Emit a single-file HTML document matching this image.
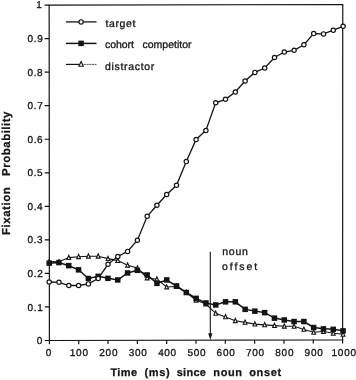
<!DOCTYPE html>
<html lang="en"><head><meta charset="utf-8"><title>Fixation Probability</title>
<style>html,body{margin:0;padding:0;background:#fff;}body{width:356px;height:380px;position:relative;overflow:hidden;}</style></head>
<body>
<svg width="356" height="380" viewBox="0 0 356 380" style="position:absolute;left:0;top:0">
<g fill="none" stroke="#141414" stroke-width="1.2">
<path d="M49.15,5.05L342.75,4.5L342.6,339.8L49.4,340.5Z"/>
<path d="M44.80,340.50H49.40M49.40,340.50V344.20M44.77,306.95H49.38M78.72,340.43V344.13M44.75,273.41H49.35M108.04,340.36V344.06M44.72,239.87H49.32M137.36,340.29V343.99M44.70,206.32H49.30M166.68,340.22V343.92M44.67,172.78H49.27M196.00,340.15V343.85M44.65,139.23H49.25M225.32,340.08V343.78M44.62,105.69H49.23M254.64,340.01V343.71M44.60,72.14H49.20M283.96,339.94V343.64M44.57,38.60H49.17M313.28,339.87V343.57M44.55,5.05H49.15M342.60,339.80V343.50"/>
</g>
<path d="M210.3,251.8V334" stroke="#141414" stroke-width="1.1" fill="none"/>
<path d="M208.20000000000002,333.2L212.4,333.2L210.3,340Z" fill="#141414"/>
<polyline points="49.2,261.6 59.0,261.8 68.8,257.6 78.6,256.7 88.4,256.2 98.2,256.2 108.0,258.6 117.8,260.6 127.6,265.2 137.4,268.0 147.2,278.0 156.9,279.2 166.7,287.0 176.5,286.5 186.3,292.5 196.1,300.2 205.9,304.0 215.7,313.3 225.5,316.9 235.3,320.7 245.1,322.4 254.9,324.1 264.7,324.9 274.5,325.6 284.3,326.2 294.1,326.3 303.9,329.4 313.7,332.3 323.5,331.5 333.3,333.3 343.1,334.3" fill="none" stroke="#141414" stroke-width="1.1"/>
<polyline points="49.2,263.2 59.0,262.5 68.8,265.7 78.6,269.8 88.4,278.5 98.2,276.3 108.0,278.3 117.8,280.0 127.6,273.0 137.4,270.3 147.2,275.0 156.9,283.3 166.7,280.0 176.5,286.0 186.3,292.5 196.1,298.4 205.9,303.0 215.7,305.0 225.5,301.8 235.3,301.8 245.1,309.4 254.9,311.1 264.7,312.6 274.5,318.1 284.3,320.0 294.1,321.5 303.9,321.5 313.7,327.5 323.5,328.8 333.3,329.3 343.1,330.8" fill="none" stroke="#141414" stroke-width="1.5"/>
<polyline points="49.2,282.0 59.0,282.3 68.8,285.5 78.6,285.5 88.4,283.9 98.2,278.5 108.0,264.3 117.8,256.5 127.6,251.4 137.4,240.2 147.2,216.3 156.9,205.3 166.7,194.5 176.5,185.3 186.3,161.6 196.1,139.5 205.9,130.5 215.7,102.8 225.5,99.3 235.3,92.0 245.1,81.0 254.9,72.4 264.7,68.0 274.5,57.5 284.3,52.0 294.1,50.3 303.9,44.7 313.7,33.6 323.5,33.9 333.3,30.2 343.1,26.3" fill="none" stroke="#141414" stroke-width="1.3"/>
<g fill="#fff" stroke="#141414" stroke-width="1.1"><path d="M47.3,263.5L51.1,263.5L49.2,259.4Z"/><path d="M57.1,263.7L60.9,263.7L59.0,259.6Z"/><path d="M66.9,259.5L70.7,259.5L68.8,255.4Z"/><path d="M76.7,258.6L80.5,258.6L78.6,254.4Z"/><path d="M86.5,258.1L90.3,258.1L88.4,253.9Z"/><path d="M96.3,258.1L100.1,258.1L98.2,253.9Z"/><path d="M106.1,260.5L109.9,260.5L108.0,256.4Z"/><path d="M115.9,262.5L119.7,262.5L117.8,258.4Z"/><path d="M125.7,267.1L129.5,267.1L127.6,262.9Z"/><path d="M135.5,269.9L139.3,269.9L137.4,265.8Z"/><path d="M145.2,279.9L149.1,279.9L147.2,275.8Z"/><path d="M155.0,281.1L158.8,281.1L156.9,276.9Z"/><path d="M164.8,288.9L168.6,288.9L166.7,284.8Z"/><path d="M174.6,288.4L178.4,288.4L176.5,284.2Z"/><path d="M184.4,294.4L188.2,294.4L186.3,290.2Z"/><path d="M194.2,302.1L198.0,302.1L196.1,297.9Z"/><path d="M204.0,305.9L207.8,305.9L205.9,301.8Z"/><path d="M213.8,315.2L217.6,315.2L215.7,311.1Z"/><path d="M223.6,318.8L227.4,318.8L225.5,314.6Z"/><path d="M233.4,322.6L237.2,322.6L235.3,318.4Z"/><path d="M243.2,324.2L247.0,324.2L245.1,320.1Z"/><path d="M253.0,326.0L256.8,326.0L254.9,321.9Z"/><path d="M262.8,326.8L266.6,326.8L264.7,322.6Z"/><path d="M272.6,327.5L276.4,327.5L274.5,323.4Z"/><path d="M282.4,328.1L286.2,328.1L284.3,323.9Z"/><path d="M292.2,328.2L296.0,328.2L294.1,324.1Z"/><path d="M302.0,331.2L305.8,331.2L303.9,327.1Z"/><path d="M311.8,334.2L315.6,334.2L313.7,330.1Z"/><path d="M321.6,333.4L325.4,333.4L323.5,329.2Z"/><path d="M331.4,335.2L335.2,335.2L333.3,331.1Z"/><path d="M341.2,336.2L344.9,336.2L343.1,332.1Z"/></g>
<g fill="#141414"><rect x="46.5" y="260.4" width="5.5" height="5.5"/><rect x="56.2" y="259.8" width="5.5" height="5.5"/><rect x="66.0" y="262.9" width="5.5" height="5.5"/><rect x="75.8" y="267.1" width="5.5" height="5.5"/><rect x="85.6" y="275.8" width="5.5" height="5.5"/><rect x="95.4" y="273.6" width="5.5" height="5.5"/><rect x="105.2" y="275.6" width="5.5" height="5.5"/><rect x="115.0" y="277.2" width="5.5" height="5.5"/><rect x="124.8" y="270.2" width="5.5" height="5.5"/><rect x="134.6" y="267.6" width="5.5" height="5.5"/><rect x="144.4" y="272.2" width="5.5" height="5.5"/><rect x="154.2" y="280.6" width="5.5" height="5.5"/><rect x="164.0" y="277.2" width="5.5" height="5.5"/><rect x="173.8" y="283.2" width="5.5" height="5.5"/><rect x="183.6" y="289.8" width="5.5" height="5.5"/><rect x="193.4" y="295.6" width="5.5" height="5.5"/><rect x="203.2" y="300.2" width="5.5" height="5.5"/><rect x="213.0" y="302.2" width="5.5" height="5.5"/><rect x="222.8" y="299.1" width="5.5" height="5.5"/><rect x="232.6" y="299.1" width="5.5" height="5.5"/><rect x="242.4" y="306.6" width="5.5" height="5.5"/><rect x="252.1" y="308.4" width="5.5" height="5.5"/><rect x="261.9" y="309.9" width="5.5" height="5.5"/><rect x="271.7" y="315.4" width="5.5" height="5.5"/><rect x="281.5" y="317.2" width="5.5" height="5.5"/><rect x="291.3" y="318.8" width="5.5" height="5.5"/><rect x="301.1" y="318.8" width="5.5" height="5.5"/><rect x="310.9" y="324.8" width="5.5" height="5.5"/><rect x="320.7" y="326.1" width="5.5" height="5.5"/><rect x="330.5" y="326.6" width="5.5" height="5.5"/><rect x="340.3" y="328.1" width="5.5" height="5.5"/></g>
<g fill="#fff" stroke="#141414" stroke-width="1.2"><circle cx="49.2" cy="282.0" r="2.15"/><circle cx="59.0" cy="282.3" r="2.15"/><circle cx="68.8" cy="285.5" r="2.15"/><circle cx="78.6" cy="285.5" r="2.15"/><circle cx="88.4" cy="283.9" r="2.15"/><circle cx="98.2" cy="278.5" r="2.15"/><circle cx="108.0" cy="264.3" r="2.15"/><circle cx="117.8" cy="256.5" r="2.15"/><circle cx="127.6" cy="251.4" r="2.15"/><circle cx="137.4" cy="240.2" r="2.15"/><circle cx="147.2" cy="216.3" r="2.15"/><circle cx="156.9" cy="205.3" r="2.15"/><circle cx="166.7" cy="194.5" r="2.15"/><circle cx="176.5" cy="185.3" r="2.15"/><circle cx="186.3" cy="161.6" r="2.15"/><circle cx="196.1" cy="139.5" r="2.15"/><circle cx="205.9" cy="130.5" r="2.15"/><circle cx="215.7" cy="102.8" r="2.15"/><circle cx="225.5" cy="99.3" r="2.15"/><circle cx="235.3" cy="92.0" r="2.15"/><circle cx="245.1" cy="81.0" r="2.15"/><circle cx="254.9" cy="72.4" r="2.15"/><circle cx="264.7" cy="68.0" r="2.15"/><circle cx="274.5" cy="57.5" r="2.15"/><circle cx="284.3" cy="52.0" r="2.15"/><circle cx="294.1" cy="50.3" r="2.15"/><circle cx="303.9" cy="44.7" r="2.15"/><circle cx="313.7" cy="33.6" r="2.15"/><circle cx="323.5" cy="33.9" r="2.15"/><circle cx="333.3" cy="30.2" r="2.15"/><circle cx="343.1" cy="26.3" r="2.15"/></g>
<path d="M65.9,21.9H96.5" stroke="#141414" stroke-width="1.3" fill="none"/>
<path d="M65.9,43.4H96.5" stroke="#141414" stroke-width="1.5" fill="none"/>
<path d="M65.9,64.4H81.1" stroke="#141414" stroke-width="1.2" fill="none"/>
<path d="M81.1,64.4H96.5" stroke="#141414" stroke-width="0.7" stroke-dasharray="2.2 0.5" fill="none"/>
<circle cx="81.1" cy="21.9" r="2.15" fill="#fff" stroke="#141414" stroke-width="1.2"/>
<rect x="78.35" y="40.65" width="5.5" height="5.5" fill="#141414"/>
<path d="M78.89999999999999,66.2L83.3,66.2L81.1,61.6Z" fill="#fff" stroke="#141414" stroke-width="1.1"/>
<g font-family="Liberation Sans, Arial, Helvetica, sans-serif" fill="#141414" style="text-rendering:geometricPrecision">
<text x="105.47" y="27.1" font-size="10.5" stroke="#141414" stroke-width="0.3" letter-spacing="0.62">target</text>
<text x="105.10" y="48.0" font-size="10.5" stroke="#141414" stroke-width="0.3" letter-spacing="-0.08">cohort</text>
<text x="142.40" y="48.0" font-size="10.5" stroke="#141414" stroke-width="0.3" letter-spacing="0.02">competitor</text>
<text x="105.10" y="69.8" font-size="10.5" stroke="#141414" stroke-width="0.3" letter-spacing="0.67">distractor</text>
<text x="222.25" y="254.7" font-size="10.5" stroke="#141414" stroke-width="0.3" letter-spacing="0.73">noun</text>
<text x="222.10" y="269.5" font-size="10.5" stroke="#141414" stroke-width="0.3" letter-spacing="1.91">offset</text>
<text x="36.65" y="344.2" font-size="10" stroke="#141414" stroke-width="0.3">0</text>
<text x="27.62" y="310.6" font-size="10" stroke="#141414" stroke-width="0.3" letter-spacing="0.60">0.1</text>
<text x="27.62" y="277.0" font-size="10" stroke="#141414" stroke-width="0.3" letter-spacing="0.60">0.2</text>
<text x="27.62" y="243.4" font-size="10" stroke="#141414" stroke-width="0.3" letter-spacing="0.54">0.3</text>
<text x="27.62" y="209.9" font-size="10" stroke="#141414" stroke-width="0.3" letter-spacing="0.48">0.4</text>
<text x="27.62" y="176.3" font-size="10" stroke="#141414" stroke-width="0.3" letter-spacing="0.54">0.5</text>
<text x="27.62" y="142.8" font-size="10" stroke="#141414" stroke-width="0.3" letter-spacing="0.54">0.6</text>
<text x="27.62" y="109.2" font-size="10" stroke="#141414" stroke-width="0.3" letter-spacing="0.60">0.7</text>
<text x="27.62" y="75.7" font-size="10" stroke="#141414" stroke-width="0.3" letter-spacing="0.54">0.8</text>
<text x="27.62" y="42.2" font-size="10" stroke="#141414" stroke-width="0.3" letter-spacing="0.60">0.9</text>
<text x="36.26" y="8.3" font-size="10" stroke="#141414" stroke-width="0.3">1</text>
<text x="45.80" y="356.1" font-size="10" stroke="#141414" stroke-width="0.3">0</text>
<text x="69.64" y="356.1" font-size="10" stroke="#141414" stroke-width="0.3" letter-spacing="0.90">100</text>
<text x="99.23" y="356.1" font-size="10" stroke="#141414" stroke-width="0.3" letter-spacing="0.78">200</text>
<text x="128.70" y="356.1" font-size="10" stroke="#141414" stroke-width="0.3" letter-spacing="0.71">300</text>
<text x="158.16" y="356.1" font-size="10" stroke="#141414" stroke-width="0.3" letter-spacing="0.65">400</text>
<text x="187.38" y="356.1" font-size="10" stroke="#141414" stroke-width="0.3" letter-spacing="0.71">500</text>
<text x="216.59" y="356.1" font-size="10" stroke="#141414" stroke-width="0.3" letter-spacing="0.78">600</text>
<text x="245.93" y="356.1" font-size="10" stroke="#141414" stroke-width="0.3" letter-spacing="0.77">700</text>
<text x="275.27" y="356.1" font-size="10" stroke="#141414" stroke-width="0.3" letter-spacing="0.77">800</text>
<text x="304.61" y="356.1" font-size="10" stroke="#141414" stroke-width="0.3" letter-spacing="0.77">900</text>
<text x="331.55" y="356.1" font-size="10" stroke="#141414" stroke-width="0.3" letter-spacing="0.73">1000</text>
<text x="110.47" y="376.0" font-size="11" font-weight="bold" stroke="#141414" stroke-width="0.25" letter-spacing="0.37">Time</text>
<text x="144.40" y="376.0" font-size="11" font-weight="bold" stroke="#141414" stroke-width="0.25" letter-spacing="0.66">(ms)</text>
<text x="176.72" y="376.0" font-size="11" font-weight="bold" stroke="#141414" stroke-width="0.25" letter-spacing="0.28">since</text>
<text x="213.35" y="376.0" font-size="11" font-weight="bold" stroke="#141414" stroke-width="0.25" letter-spacing="0.60">noun</text>
<text x="249.22" y="376.0" font-size="11" font-weight="bold" stroke="#141414" stroke-width="0.25" letter-spacing="0.63">onset</text>
<text transform="translate(9.9,234.95) rotate(-90)" font-size="11.5" font-weight="bold" stroke="#141414" stroke-width="0.25" letter-spacing="0.51">Fixation</text>
<text transform="translate(9.9,175.95) rotate(-90)" font-size="11.5" font-weight="bold" stroke="#141414" stroke-width="0.25" letter-spacing="0.50">Probability</text>
</g>
</svg>
</body></html>
